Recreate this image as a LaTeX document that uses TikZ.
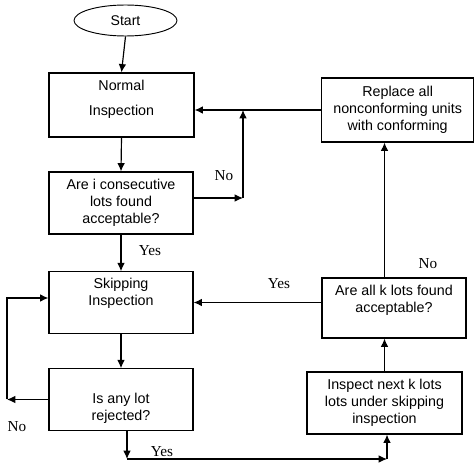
\documentclass[tikz,border=0pt]{standalone}
\usepackage{fontspec}
\setmainfont{Liberation Sans}
\newfontfamily\timesfont{Liberation Serif}
\usetikzlibrary{positioning, shapes.geometric, arrows, arrows.meta}
\tikzstyle{startstop} = [ellipse, minimum width=3.09cm, minimum height=0.93cm, inner sep=0pt, text centered, draw=black, line width=0.8pt, font=\fontsize{12}{14}\selectfont]
\tikzstyle{process}   = [rectangle, minimum width=4.32cm, minimum height=1.84cm, align=center, draw=black, line width=1pt, font=\fontsize{12.2}{14.5}\selectfont]
\tikzstyle{boxtext}   = [align=center, inner sep=0pt, font=\fontsize{12.2}{14.5}\selectfont]
\tikzstyle{answer}    = [inner sep=0pt, font=\timesfont\fontsize{13}{15}\selectfont]
\tikzstyle{flow}      = [-{Latex[length=2.5mm, width=2.3mm]}, line width=1pt]

\begin{document}
\begin{tikzpicture}
            \useasboundingbox (0,0) rectangle (14.22,14.22);

            \node[startstop] (start) at (3.765,13.605) {Start};
            \node[process, minimum width=4.35cm, minimum height=1.92cm,
                  label={[boxtext, yshift=0.165cm]center:Normal\\[7pt]Inspection}] (normal) at (3.645,11.07) {};
            \node[process, minimum height=1.86cm] (arei) at (3.63,8.13) {Are i consecutive\\lots found\\acceptable?};
            \node[process,
                  label={[boxtext, yshift=0.27cm]center:Skipping\\Inspection}] (skip) at (3.63,5.145) {};
            \node[process,
                  label={[boxtext, yshift=-0.27cm]center:Is any lot\\rejected?}] (isany) at (3.63,2.235) {};
            \node[process, minimum width=4.55cm, minimum height=1.92cm] (replace) at (11.93,10.92) {Replace all\\nonconforming units\\with conforming};
            \node[process, minimum height=1.8cm,
                  label={[boxtext, yshift=0.24cm]center:Are all k lots found\\acceptable?}] (allk) at (11.82,4.98) {};
            \node[process, minimum width=4.65cm, minimum height=1.86cm] (inspect) at (11.535,2.13) {Inspect next k lots\\lots under skipping\\inspection};

            \coordinate (nojoin)  at (7.29,8.28);
            \coordinate (noleft)  at (0.21,2.235);
            \coordinate (noup)    at (0.21,5.28);
            \coordinate (yesdown) at (3.81,0.45);
            \coordinate (yesright) at (11.61,0.45);

            \draw[flow] (start.south) -- (normal.north);
            \draw[flow] (normal.south) -- (arei.north);
            \draw[flow] (arei.east |- nojoin) -- (nojoin);
            \draw[flow] (nojoin) -- (nojoin |- replace.west);
            \draw[flow] (replace.west) -- (replace.west -| normal.east);
            \draw[flow] (arei.south) -- (skip.north);
            \draw[flow] (skip.south) -- (isany.north);
            \draw[flow] (isany.west) -- (noleft);
            \draw[flow] (noleft) -- (noup) -- (noup -| skip.west);
            \draw[flow] (yesdown |- isany.south) -- (yesdown);
            \draw[flow] (yesdown) -- (yesright);
            \draw[flow] (yesright) -- (yesright |- inspect.south);
            \draw[flow] (inspect.north) -- (inspect.north |- allk.south);
            \draw[flow] (allk.west |- skip.east) -- (skip.east);
            \draw[flow] (inspect.north |- allk.north) -- (inspect.north |- replace.south);

            \node[answer] (noA)  at (6.72,8.94) {No};
            \node[answer] (yesA) at (4.5,6.69) {Yes};
            \node[answer] (yesB) at (8.37,5.7) {Yes};
            \node[answer] (noB)  at (12.84,6.3) {No};
            \node[answer] (noC)  at (0.51,1.41) {No};
            \node[answer] (yesC) at (4.86,0.66) {Yes};
        \end{tikzpicture}
\end{document}
